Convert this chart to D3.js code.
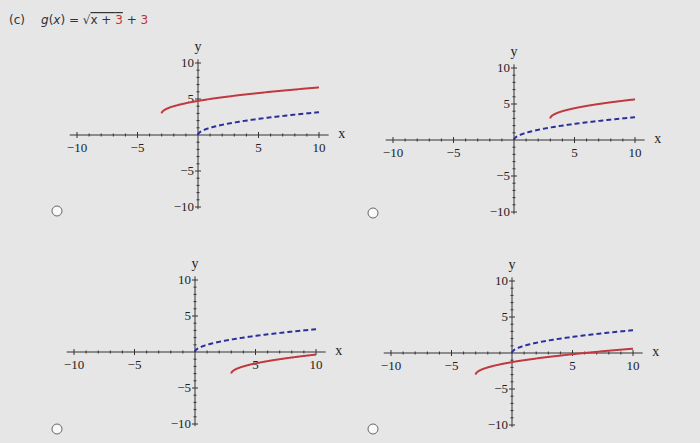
<!DOCTYPE html><html><head><meta charset="utf-8"><script src="https://cdn.jsdelivr.net/npm/d3@7"></script>
<style>body{margin:0;background:#e6e6e7}svg{display:block}</style></head><body><svg id="c" width="700" height="443"></svg>
<script>
const xTicks=[-10,-5,5,10], yTicks=[10,5,-5,-10];
const redShift=[[-3,3],[3,3],[3,-3],[-3,-3]];
const panels=[{ox:198,oy:135},{ox:514,oy:140},{ox:195,oy:352},{ox:512,oy:353}];
const radios=[[57,211],[373,213],[57,429],[373,429]];
const svg=d3.select("#c");
svg.append("text").attr("x",9).attr("y",24).attr("font-family","DejaVu Sans").attr("font-size",12).attr("fill","#333").text("(c)");
const g0=svg.append("text").attr("x",41).attr("y",24).attr("font-family","DejaVu Sans").attr("font-size",12).attr("fill","#333");
g0.append("tspan").attr("font-style","italic").text("g");
g0.append("tspan").text("(");
g0.append("tspan").attr("font-style","italic").text("x");
g0.append("tspan").text(") = √");
g0.append("tspan").attr("text-decoration","overline").text("x + ").append("tspan").attr("fill","#b33").text("3");
g0.append("tspan").text(" + ");g0.append("tspan").attr("fill","#b33").text("3");
panels.forEach((p,i)=>{
  const x=d3.scaleLinear().domain([-10,10]).range([p.ox-121,p.ox+121]);
  const y=d3.scaleLinear().domain([-10,10]).range([p.oy+72,p.oy-72]);
  const g=svg.append("g").attr("font-family","Liberation Serif").attr("fill","#222");
  g.append("line").attr("x1",x(-10.6)).attr("x2",x(10.8)).attr("y1",y(0)).attr("y2",y(0)).attr("stroke","#333");
  g.append("line").attr("x1",x(0)).attr("x2",x(0)).attr("y1",y(-10.3)).attr("y2",y(10.5)).attr("stroke","#333");
  for(let v=-10;v<=10;v++){ if(!v)continue;
    g.append("line").attr("x1",x(v)).attr("x2",x(v)).attr("y1",y(0)-(v%5?1.5:3)).attr("y2",y(0)+(v%5?1.5:3)).attr("stroke","#333");
    g.append("line").attr("y1",y(v)).attr("y2",y(v)).attr("x1",x(0)-(v%5?1.5:3)).attr("x2",x(0)+(v%5?1.5:3)).attr("stroke","#333");}
  xTicks.forEach(v=>g.append("text").attr("x",x(v)).attr("y",y(0)+17).attr("text-anchor","middle").attr("font-size",13).text(v<0?"−"+(-v):v));
  yTicks.forEach(v=>g.append("text").attr("x",x(0)-4).attr("y",y(v)+4).attr("text-anchor","end").attr("font-size",13).text(v<0?"−"+(-v):v));
  g.append("text").attr("x",x(11.6)).attr("y",y(0)+3).attr("font-size",14).text("x");
  g.append("text").attr("x",x(0)).attr("y",y(11.6)).attr("text-anchor","middle").attr("font-size",14).text("y");
  const line=d3.line().x(d=>x(d[0])).y(d=>y(d[1]));
  const [h,k]=redShift[i];
  const rx=d3.range(0,200.5).map(t=>h+(10-h)*(t/200)**2);
  g.append("path").attr("d",line(rx.map(v=>[v,Math.sqrt(Math.max(0,v-h))+k]))).attr("fill","none").attr("stroke","#c0393f").attr("stroke-width",2);
  const bx=d3.range(0,200.5).map(t=>10*(t/200)**2);
  g.append("path").attr("d",line(bx.map(v=>[v,Math.sqrt(v)]))).attr("fill","none").attr("stroke","#2b2f9a").attr("stroke-width",2).attr("stroke-dasharray","5,3");
  svg.append("circle").attr("cx",radios[i][0]).attr("cy",radios[i][1]).attr("r",5).attr("fill","#fafafa").attr("stroke","#666");
});
</script></body></html>
